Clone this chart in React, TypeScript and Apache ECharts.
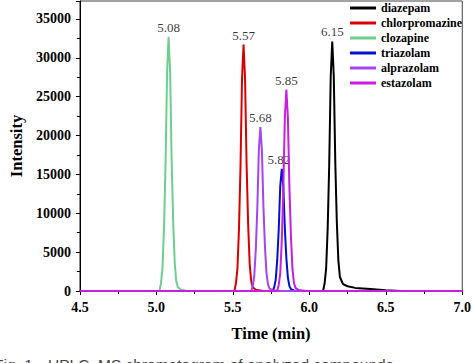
import React, { useEffect, useRef } from "react";
import * as echarts from "echarts";

const seriesNames = ["diazepam", "chlorpromazine", "clozapine", "triazolam", "alprazolam", "estazolam"];
const seriesColors = ["#000000", "#d80000", "#6dcf8f", "#0010d0", "#a444f2", "#c81ee0"];

const diazepam: [number, number][] = [
  [4.5, 0], [6.09, 0], [6.1, 960], [6.11, 2900], [6.12, 8000], [6.13, 16100], [6.14, 27600], [6.15, 32100],
  [6.16, 27600], [6.17, 16400], [6.18, 8800], [6.19, 3900], [6.2, 1800], [6.22, 900], [6.25, 600],
  [6.3, 400], [6.4, 250], [6.5, 100], [6.6, 0], [7.0, 0],
];
const chlorpromazine: [number, number][] = [
  [4.5, 0], [5.51, 0], [5.52, 950], [5.53, 2850], [5.54, 7900], [5.55, 15900], [5.56, 27300], [5.57, 31700],
  [5.58, 27300], [5.59, 16200], [5.6, 8600], [5.61, 3500], [5.62, 1300], [5.63, 480], [5.65, 150], [5.7, 0], [7.0, 0],
];
const clozapine: [number, number][] = [
  [4.5, 0], [5.02, 0], [5.03, 1000], [5.04, 2900], [5.05, 8200], [5.06, 16400], [5.07, 28100], [5.08, 32700],
  [5.09, 28100], [5.1, 16700], [5.11, 8800], [5.12, 3600], [5.13, 1300], [5.14, 500], [5.16, 150], [5.2, 0], [7.0, 0],
];
const triazolam: [number, number][] = [
  [4.5, 0], [5.76, 0], [5.77, 470], [5.78, 1400], [5.79, 3900], [5.8, 7900], [5.81, 13500], [5.82, 15700],
  [5.83, 13500], [5.84, 8100], [5.85, 4200], [5.86, 1700], [5.87, 630], [5.88, 240], [5.9, 80], [5.95, 0], [7.0, 0],
];
const alprazolam: [number, number][] = [
  [4.5, 0], [5.62, 0], [5.63, 630], [5.64, 1900], [5.65, 5300], [5.66, 10600], [5.67, 18100], [5.68, 21100],
  [5.69, 18100], [5.7, 10800], [5.71, 5700], [5.72, 2300], [5.73, 850], [5.74, 320], [5.76, 100], [5.8, 0], [7.0, 0],
];
const estazolam: [number, number][] = [
  [4.5, 0], [5.79, 0], [5.8, 780], [5.81, 2300], [5.82, 6500], [5.83, 13000], [5.84, 22300], [5.85, 25900],
  [5.86, 22300], [5.87, 13200], [5.88, 7000], [5.89, 2800], [5.9, 1000], [5.91, 400], [5.93, 130], [5.98, 0], [7.0, 0],
];
const seriesData = [diazepam, chlorpromazine, clozapine, triazolam, alprazolam, estazolam];

// retention-time annotations: apex [time, intensity] and label text
const peakLabels = ["6.15", "5.57", "5.08", "5.82", "5.68", "5.85"];
const peakApex: [number, number][] = [[6.15, 32100], [5.57, 31700], [5.08, 32700], [5.82, 15700], [5.68, 21100], [5.85, 25900]];
const peakLabelOffset: [number, number][] = [[0, 0], [0, 0], [0, 0], [-3, 0], [0, 0], [0, 0]];

const xTicks = { min: 4.5, max: 7.0, interval: 0.5 };
const yTicks = { min: 0, max: 37300, interval: 5000 };

const captionLead = "Fig. 1";
const captionText = "UPLC\u2013MS chromatogram of analyzed compounds";

const serif = "'Liberation Serif', 'Times New Roman', serif";

export default function App() {
  const ref = useRef<HTMLDivElement>(null);
  useEffect(() => {
    if (!ref.current) return;
    const chart = echarts.init(ref.current, undefined, { renderer: "svg" });
    const lineSeries = seriesNames.map((name, i) => ({
      name,
      type: "line",
      data: seriesData[i],
      showSymbol: false,
      symbol: "none",
      lineStyle: { color: seriesColors[i], width: 2 },
      itemStyle: { color: seriesColors[i] },
      emphasis: { disabled: true },
    }));
    const labelSeries = {
      name: "peaks",
      type: "scatter",
      symbolSize: 0,
      silent: true,
      itemStyle: { color: "rgba(0,0,0,0)" },
      data: peakApex.map((p, i) => ({
        value: p,
        label: {
          show: true,
          position: "top",
          distance: 3,
          offset: peakLabelOffset[i],
          formatter: peakLabels[i],
          fontFamily: serif,
          fontSize: 13,
          fontWeight: "normal",
          color: "#000",
        },
      })),
    };
    chart.setOption({
      animation: false,
      backgroundColor: "#ffffff",
      grid: {
        left: 77, right: 7, top: 1, bottom: 72,
        show: true, borderColor: "#444", borderWidth: 1, backgroundColor: "transparent",
      },
      legend: {
        orient: "vertical",
        left: 350,
        top: 2,
        icon: "rect",
        itemWidth: 26,
        itemHeight: 3,
        itemGap: 3,
        padding: 0,
        textStyle: { fontFamily: serif, fontWeight: "bold", fontSize: 12, color: "#000", lineHeight: 12 },
        data: seriesNames,
      },
      xAxis: {
        type: "value",
        min: xTicks.min, max: xTicks.max, interval: xTicks.interval,
        name: "Time (min)", nameLocation: "middle", nameGap: 34,
        nameTextStyle: { fontFamily: serif, fontWeight: "bold", fontSize: 16.5, color: "#000" },
        axisLine: { show: true, onZero: false, lineStyle: { color: "#000", width: 1 } },
        axisTick: { show: true, inside: false, length: 4, lineStyle: { color: "#000" } },
        minorTick: { show: true, splitNumber: 2, length: 3, lineStyle: { color: "#000" } },
        splitLine: { show: false },
        axisLabel: {
          fontFamily: serif, fontWeight: "bold", fontSize: 14, color: "#000", margin: 9,
          formatter: (v: number) => v.toFixed(1),
        },
      },
      yAxis: {
        type: "value",
        min: yTicks.min, max: yTicks.max, interval: yTicks.interval,
        name: "Intensity", nameLocation: "middle", nameGap: 39,
        nameTextStyle: { fontFamily: serif, fontWeight: "bold", fontSize: 16.5, color: "#000" },
        axisLine: { show: true, lineStyle: { color: "#000", width: 1 } },
        axisTick: { show: true, inside: false, length: 4, lineStyle: { color: "#000" } },
        minorTick: { show: true, splitNumber: 2, length: 3, lineStyle: { color: "#000" } },
        splitLine: { show: false },
        axisLabel: {
          fontFamily: serif, fontWeight: "bold", fontSize: 14, color: "#000", margin: 9,
          showMaxLabel: false,
          formatter: (v: number) => String(Math.round(v)),
        },
      },
      graphic: [
        {
          type: "text", left: -6, top: 356,
          style: { text: captionLead, fontFamily: "'Liberation Sans', Arial, sans-serif", fontSize: 15.5, fill: "#444" },
        },
        {
          type: "text", left: 48, top: 356,
          style: { text: captionText, fontFamily: "'Liberation Sans', Arial, sans-serif", fontSize: 15.5, fill: "#444" },
        },
      ],
      series: [...lineSeries, labelSeries],
    });
    return () => chart.dispose();
  }, []);
  return <div ref={ref} style={{ position: "fixed", left: 0, top: 0, width: 474, height: 363 }} />;
}
